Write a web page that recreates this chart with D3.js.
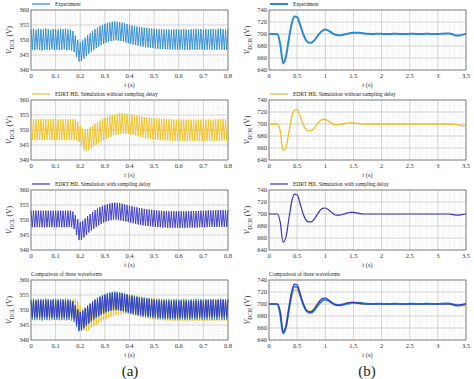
<!DOCTYPE html>
<html>
<head>
<meta charset="utf-8">
<script src="https://cdn.jsdelivr.net/npm/d3@7"></script>
<style>
  body { margin: 0; background: #fff; }
  svg { display: block; font-family: "Liberation Serif", "DejaVu Serif", serif; }
</style>
</head>
<body>
<svg id="chart" width="474" height="379"></svg>
<script>
// ---- data: left column, V_DCL ripple (peaks at t = k*0.01, troughs at t = k*0.01 + 0.005)
const expPeaks = [353.5, 353.8, 353.4, 353.7, 353.6, 353.5, 353.8, 353.6, 353.4, 353.7, 353.6, 353.5, 353.7, 353.6, 353.8, 353.5, 353.4,
  353.0, 351.5, 350.0, 349.3, 349.8, 350.8, 351.6, 352.3, 353.0, 353.6, 354.1, 354.6, 355.0, 355.4, 355.7, 355.9, 356.1, 356.2, 356.1,
  356.0, 355.8, 355.6, 355.3, 355.1, 354.9, 354.7, 354.5, 354.4, 354.2, 354.1, 354.0, 353.9, 353.8, 353.7,
  353.7, 353.6, 353.6, 353.5, 353.6, 353.5, 353.4, 353.5, 353.6, 353.4, 353.5, 353.6, 353.5, 353.4, 353.6, 353.5, 353.7, 353.5, 353.6,
  353.4, 353.6, 353.5, 353.7, 353.6, 353.5, 353.6, 353.8, 353.6, 353.5, 353.7];
const expTroughs = [346.8, 346.6, 346.9, 346.7, 346.5, 346.8, 346.7, 346.6, 346.9, 346.7, 346.8, 346.6, 346.7, 346.9, 346.6, 346.7, 346.5,
  346.0, 344.3, 342.8, 343.0, 343.8, 344.6, 345.4, 346.1, 346.7, 347.3, 347.8, 348.3, 348.7, 349.1, 349.4, 349.7, 349.9, 350.0, 349.9,
  349.7, 349.5, 349.2, 348.9, 348.7, 348.5, 348.3, 348.1, 347.9, 347.8, 347.6, 347.5, 347.4, 347.3,
  347.2, 347.1, 347.0, 347.0, 346.9, 346.9, 346.8, 346.9, 346.8, 346.7, 346.8, 346.9, 346.7, 346.8, 346.7, 346.9, 346.8, 346.7, 346.9,
  346.8, 346.7, 346.8, 346.9, 346.7, 346.8, 346.7, 346.9, 346.8, 346.7, 346.8];

const noDelayPeaks = [353.6, 353.6, 353.6, 353.6, 353.6, 353.6, 353.6, 353.6, 353.6, 353.6, 353.6, 353.6, 353.6, 353.6, 353.6, 353.6, 353.6, 353.6, 353.6,
  352.8, 351.5, 350.4, 350.0, 350.3, 350.9, 351.5, 352.1, 352.6, 353.1, 353.6, 354.0, 354.4, 354.7, 355.0, 355.2, 355.4, 355.5, 355.6,
  355.5, 355.4, 355.3, 355.1, 354.9, 354.8, 354.6, 354.5, 354.3, 354.2, 354.1, 354.0, 353.9,
  353.8, 353.8, 353.7, 353.7, 353.6, 353.6, 353.6, 353.5, 353.5, 353.5, 353.5, 353.5, 353.5, 353.5, 353.5, 353.5, 353.5, 353.5, 353.5,
  353.5, 353.5, 353.5, 353.5, 353.5, 353.5, 353.6, 353.6, 353.6, 353.6, 353.6];
const noDelayTroughs = [346.6, 346.6, 346.6, 346.6, 346.6, 346.6, 346.6, 346.6, 346.6, 346.6, 346.6, 346.6, 346.6, 346.6, 346.6, 346.6, 346.6, 346.6, 346.6,
  346.0, 344.6, 343.3, 342.9, 343.3, 343.9, 344.5, 345.1, 345.6, 346.1, 346.6, 347.0, 347.4, 347.7, 348.0, 348.3, 348.5, 348.7, 348.8,
  348.8, 348.7, 348.5, 348.3, 348.1, 347.9, 347.7, 347.5, 347.3, 347.2, 347.0, 346.9,
  346.8, 346.7, 346.6, 346.6, 346.5, 346.5, 346.5, 346.4, 346.4, 346.4, 346.4, 346.4, 346.4, 346.4, 346.4, 346.4, 346.4, 346.4, 346.4,
  346.4, 346.4, 346.4, 346.4, 346.4, 346.4, 346.5, 346.5, 346.5, 346.5, 346.5];

const delayPeaks = [353.1, 353.1, 353.1, 353.1, 353.1, 353.1, 353.1, 353.1, 353.1, 353.1, 353.1, 353.1, 353.1, 353.1, 353.1, 353.1, 353.1,
  352.8, 351.6, 350.2, 349.4, 349.7, 350.5, 351.3, 352.0, 352.7, 353.3, 353.8, 354.3, 354.7, 355.0, 355.3, 355.5, 355.7, 355.8, 355.7,
  355.6, 355.4, 355.2, 355.0, 354.8, 354.6, 354.4, 354.2, 354.0, 353.9, 353.7, 353.6, 353.5, 353.4, 353.3,
  353.2, 353.1, 353.1, 353.0, 353.0, 352.9, 352.9, 352.9, 352.9, 352.9, 352.9, 352.9, 352.9, 352.9, 353.0, 353.0, 353.0, 353.0, 353.1,
  353.1, 353.1, 353.2, 353.2, 353.2, 353.2, 353.3, 353.3, 353.3, 353.3, 353.3];
const delayTroughs = [347.6, 347.6, 347.6, 347.6, 347.6, 347.6, 347.6, 347.6, 347.6, 347.6, 347.6, 347.6, 347.6, 347.6, 347.6, 347.6, 347.6,
  347.0, 345.0, 343.3, 343.4, 344.2, 345.0, 345.8, 346.5, 347.1, 347.7, 348.2, 348.7, 349.1, 349.5, 349.8, 350.0, 350.2, 350.2, 350.1,
  349.9, 349.7, 349.5, 349.3, 349.1, 348.9, 348.7, 348.5, 348.4, 348.2, 348.1, 348.0, 347.9, 347.8,
  347.7, 347.6, 347.6, 347.5, 347.5, 347.4, 347.4, 347.4, 347.4, 347.4, 347.4, 347.4, 347.4, 347.4, 347.5, 347.5, 347.5, 347.5, 347.6,
  347.6, 347.6, 347.6, 347.7, 347.7, 347.7, 347.7, 347.7, 347.7, 347.7, 347.7];

// ---- data: right column, V_DCH sampled every 0.05 s from 0 to 3.5 s
const expDCH = [700, 700, 700, 699.5, 683, 651, 662, 690, 716, 729, 728, 716, 702, 691, 686, 685.5, 689, 695, 701, 705.5,
  707.5, 706, 703, 700, 698.5, 698, 698.5, 699.5, 700.5, 701.5, 702, 702.2, 702, 701.5, 700.8, 700.3, 700, 700, 700.3, 700.5,
  700.3, 700, 699.8, 700, 700.3, 700.5, 700.2, 700, 699.8, 700, 700.4, 700.5, 700.2, 700, 699.8, 700.2, 700.5, 700.3, 700, 699.8,
  700, 700.3, 700.5, 700.8, 701, 700, 698, 697.5, 698, 699, 700.5];
const noDelayDCH = [700, 700, 700, 700, 688, 656, 660, 685, 710, 723, 724, 714, 701, 692, 688.5, 689, 693, 699, 704.5, 707.5,
  707.5, 705, 702, 699.5, 698.5, 699, 700, 701, 702, 702, 701.5, 701, 700.5, 700, 700, 700, 700, 700, 700, 700,
  700, 700, 700, 700, 700, 700, 700, 700, 700, 700, 700, 700, 700, 700, 700, 700, 700, 700, 700, 700,
  700, 700, 700, 700, 700, 700, 699.5, 698.5, 697.5, 697, 696.5];
const delayDCH = [700, 700, 700, 700, 686, 653, 661, 690, 719, 733, 732, 718, 702, 691, 687, 687, 691, 698, 705, 709.5,
  710, 707.5, 703.5, 700, 698, 698, 699, 700.5, 702, 702.8, 702.8, 702, 701, 700.3, 700, 700, 700, 700, 700, 700,
  700, 700, 700, 700, 700, 700, 700, 700, 700, 700, 700, 700, 700, 700, 700, 700, 700, 700, 700, 700,
  700, 700, 700, 700, 700, 699.5, 698.5, 698, 698.5, 699.5, 700];

const leftTicksX = [0, 0.1, 0.2, 0.3, 0.4, 0.5, 0.6, 0.7, 0.8];
const leftTicksY = [340, 345, 350, 355, 360];
const rightTicksX = [0, 0.5, 1, 1.5, 2, 2.5, 3, 3.5];
const rightTicksY = [640, 660, 680, 700, 720, 740];

const cExp = "#2a8ad4", cNoDelay = "#f0c020", cDelay = "#3535c8";

const rowTops = [0, 90, 180, 270];
const leftTitles = ["Experiment", "EDRT HIL Simulation without sampling delay", "EDRT HIL Simulation with sampling delay", "Comparison of three waveforms"];

const svg = d3.select("#chart");

function rippleLine(peaks, troughs) {
  const pts = [];
  for (let k = 0; k < peaks.length; k++) {
    pts.push([k * 0.01, peaks[k]]);
    if (k < troughs.length) pts.push([k * 0.01 + 0.005, troughs[k]]);
  }
  return pts;
}

function panel(g, x, y, xMinor, yMinor, yLabelSub) {
  const [x0, x1] = x.range(), [y1, y0] = y.range();
  const grid = g.append("g");
  grid.selectAll(".mx").data(xMinor).join("line")
    .attr("x1", d => x(d)).attr("x2", d => x(d)).attr("y1", y0).attr("y2", y1)
    .attr("stroke", "#d8d8d8").attr("stroke-width", 0.4).attr("stroke-dasharray", "1,1");
  grid.selectAll(".my").data(yMinor).join("line")
    .attr("y1", d => y(d)).attr("y2", d => y(d)).attr("x1", x0).attr("x2", x1)
    .attr("stroke", "#d8d8d8").attr("stroke-width", 0.4).attr("stroke-dasharray", "1,1");
  return grid;
}

function frame(g, x, y, ticksX, ticksY, fmtX, sub, top) {
  const [x0, x1] = x.range(), [y1, y0] = y.range();
  g.selectAll(".gx").data(ticksX).join("line")
    .attr("x1", d => x(d)).attr("x2", d => x(d)).attr("y1", y0).attr("y2", y1)
    .attr("stroke", "#bdbdbd").attr("stroke-width", 0.6);
  g.selectAll(".gy").data(ticksY).join("line")
    .attr("y1", d => y(d)).attr("y2", d => y(d)).attr("x1", x0).attr("x2", x1)
    .attr("stroke", "#bdbdbd").attr("stroke-width", 0.6);
  g.append("rect").attr("x", x0).attr("y", y0).attr("width", x1 - x0).attr("height", y1 - y0)
    .attr("fill", "none").attr("stroke", "#555").attr("stroke-width", 0.6);
  g.selectAll(".tx").data(ticksX).join("text")
    .attr("x", d => x(d)).attr("y", y1 + 8).attr("text-anchor", "middle")
    .attr("font-size", 6.5).attr("fill", "#333").text(fmtX);
  g.selectAll(".ty").data(ticksY).join("text")
    .attr("x", x0 - 2).attr("y", d => y(d) + 2.2).attr("text-anchor", "end")
    .attr("font-size", 6.5).attr("fill", "#333").text(d => d);
  const xl = g.append("text").attr("x", (x0 + x1) / 2).attr("y", y1 + 16.5)
    .attr("text-anchor", "middle").attr("font-size", 6.5).attr("fill", "#333");
  xl.append("tspan").attr("font-style", "italic").text("t");
  xl.append("tspan").text(" (s)");
  const yl = g.append("text")
    .attr("transform", `translate(${x0 - 19},${(y0 + y1) / 2}) rotate(-90)`)
    .attr("text-anchor", "middle").attr("font-size", 7.5).attr("fill", "#333");
  yl.append("tspan").attr("font-style", "italic").text("V");
  yl.append("tspan").attr("font-size", 5.5).attr("dy", 2).text(sub);
  yl.append("tspan").attr("dy", -2).text(" (V)");
}

function legend(g, x0, top, color, label, width) {
  if (color) {
    g.append("line").attr("x1", x0 + 1).attr("x2", x0 + 19).attr("y1", top + 5).attr("y2", top + 5)
      .attr("stroke", color).attr("stroke-width", width);
    g.append("text").attr("x", x0 + 24).attr("y", top + 7).attr("font-size", 5.5).attr("fill", "#222").text(label);
  } else {
    g.append("text").attr("x", x0).attr("y", top + 7).attr("font-size", 5.5).attr("fill", "#222").text(label);
  }
}

// ---- left column
const leftSeries = [
  [{ p: expPeaks, t: expTroughs, c: cExp }],
  [{ p: noDelayPeaks, t: noDelayTroughs, c: cNoDelay }],
  [{ p: delayPeaks, t: delayTroughs, c: cDelay }],
  [{ p: noDelayPeaks, t: noDelayTroughs, c: cNoDelay }, { p: expPeaks, t: expTroughs, c: cExp }, { p: delayPeaks, t: delayTroughs, c: cDelay }]
];
const leftColors = [cExp, cNoDelay, cDelay, null];

rowTops.forEach((top, i) => {
  const g = svg.append("g");
  const x = d3.scaleLinear().domain([0, 0.8]).range([31, 228]);
  const y = d3.scaleLinear().domain([340, 360]).range([top + 70, top + 10]);
  panel(g, x, y, d3.range(0, 0.8001, 0.02), d3.range(340, 360.01, 1));
  frame(g, x, y, leftTicksX, leftTicksY, d => d3.format("")(d), "DCL", top);
  const line = d3.line().x(d => x(d[0])).y(d => y(d[1]));
  leftSeries[i].forEach(s => {
    g.append("path").attr("d", line(rippleLine(s.p, s.t)))
      .attr("fill", "none").attr("stroke", s.c).attr("stroke-width", 0.9).attr("stroke-linejoin", "round");
  });
  legend(g, 31, top - 1, leftColors[i], leftTitles[i], 1.2);
});

// ---- right column
const tR = d3.range(71).map(i => i * 0.05);
const rightSeries = [
  [{ v: expDCH, c: cExp, w: 2 }],
  [{ v: noDelayDCH, c: cNoDelay, w: 1.3 }],
  [{ v: delayDCH, c: cDelay, w: 1.2 }],
  [{ v: noDelayDCH, c: cNoDelay, w: 1.4 }, { v: expDCH, c: cExp, w: 2 }, { v: delayDCH, c: cDelay, w: 1.2 }]
];
const rightWidths = [2, 1.3, 1.2, 0];

rowTops.forEach((top, i) => {
  const g = svg.append("g");
  const x = d3.scaleLinear().domain([0, 3.5]).range([269, 466]);
  const y = d3.scaleLinear().domain([640, 740]).range([top + 70, top + 10]);
  panel(g, x, y, d3.range(0, 3.5001, 0.1), d3.range(640, 740.01, 5));
  frame(g, x, y, rightTicksX, rightTicksY, d => d3.format("")(d), "DCH", top);
  const line = d3.line().x((d, j) => x(tR[j])).y(d => y(d)).curve(d3.curveMonotoneX);
  rightSeries[i].forEach(s => {
    g.append("path").attr("d", line(s.v))
      .attr("fill", "none").attr("stroke", s.c).attr("stroke-width", s.w).attr("stroke-linejoin", "round");
  });
  legend(g, 269, top - 1, leftColors[i], leftTitles[i], rightWidths[i]);
});

svg.append("text").attr("x", 130).attr("y", 376).attr("text-anchor", "middle")
  .attr("font-size", 15).attr("fill", "#222").text("(a)");
svg.append("text").attr("x", 367).attr("y", 376).attr("text-anchor", "middle")
  .attr("font-size", 15).attr("fill", "#222").text("(b)");
</script>
</body>
</html>
